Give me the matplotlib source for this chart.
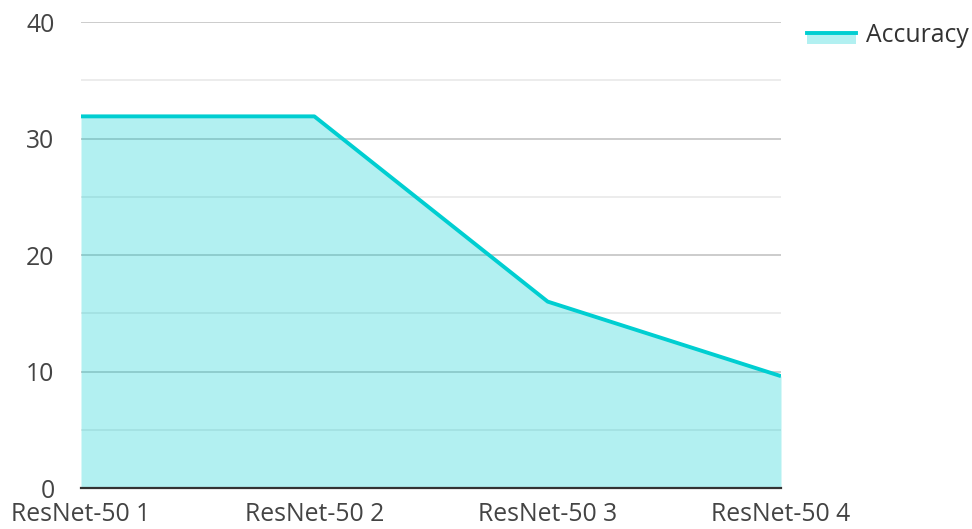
import matplotlib
matplotlib.use("Agg")
import matplotlib.pyplot as plt
from matplotlib.lines import Line2D
from matplotlib.patches import Patch
from matplotlib.legend_handler import HandlerBase
import matplotlib.patches as mpatches

categories = ["ResNet-50 1", "ResNet-50 2", "ResNet-50 3", "ResNet-50 4"]
accuracy = [31.9, 31.9, 16.0, 9.6]
series_name = "Accuracy"
y_ticks = [0, 10, 20, 30, 40]
y_minor = [5, 15, 25, 35]

plt.rcParams['font.family'] = ['Open Sans', 'DejaVu Sans']

line_color = '#00CED1'
fs = 17.8
lw = 2.8
fig = plt.figure(figsize=(9.72, 5.29), dpi=100)
ax = fig.add_axes([81/972, 1-488/529, (781-81)/972, (488-22)/529])

x = list(range(len(categories)))
ax.fill_between(x, accuracy, 0, color=line_color, alpha=0.3, linewidth=0, zorder=2)
ax.plot(x, accuracy, color=line_color, linewidth=lw, zorder=3, solid_capstyle='butt')

ax.set_xlim(0, len(categories) - 1)
ax.set_ylim(0, 40)
ax.set_yticks(y_ticks)
ax.set_yticks(y_minor, minor=True)
ax.set_xticks(x)
ax.set_xticklabels(categories)
ax.grid(axis='y', which='major', color='#c8c8c8', linewidth=1.3, zorder=1)
ax.grid(axis='y', which='minor', color='#ebebeb', linewidth=1.3, zorder=1)
ax.set_axisbelow(True)
for s in ['top', 'right', 'left']:
    ax.spines[s].set_visible(False)
ax.spines['bottom'].set_color('#333333')
ax.spines['bottom'].set_linewidth(1.6)
ax.spines['bottom'].set_zorder(4)
ax.tick_params(axis='both', which='both', length=0, labelsize=fs, labelcolor='#444444')
ax.tick_params(axis='y', pad=19)
ax.tick_params(axis='x', pad=10)
for lbl in ax.get_yticklabels():
    lbl.set_horizontalalignment('right')


class AreaHandler(HandlerBase):
    def create_artists(self, legend, orig_handle, xdescent, ydescent, width, height, fontsize, trans):
        rect = mpatches.Rectangle((-xdescent, -ydescent), width, height * 0.5,
                                  facecolor=line_color, alpha=0.3, edgecolor='none', transform=trans)
        ln = Line2D([-xdescent, -xdescent + width], [-ydescent + height * 0.5] * 2,
                    color=line_color, linewidth=lw, transform=trans)
        return [rect, ln]

handle = Patch(label=series_name)
leg = fig.legend([handle], [series_name], handler_map={Patch: AreaHandler()},
                 loc='upper left', bbox_to_anchor=(807/972, 1-23/529), frameon=False,
                 fontsize=fs, handlelength=2.0, handleheight=0.9, handletextpad=0.38,
                 borderaxespad=0, borderpad=0)
for t in leg.get_texts():
    t.set_color('#333333')

fig.savefig('out.png', dpi=100)
